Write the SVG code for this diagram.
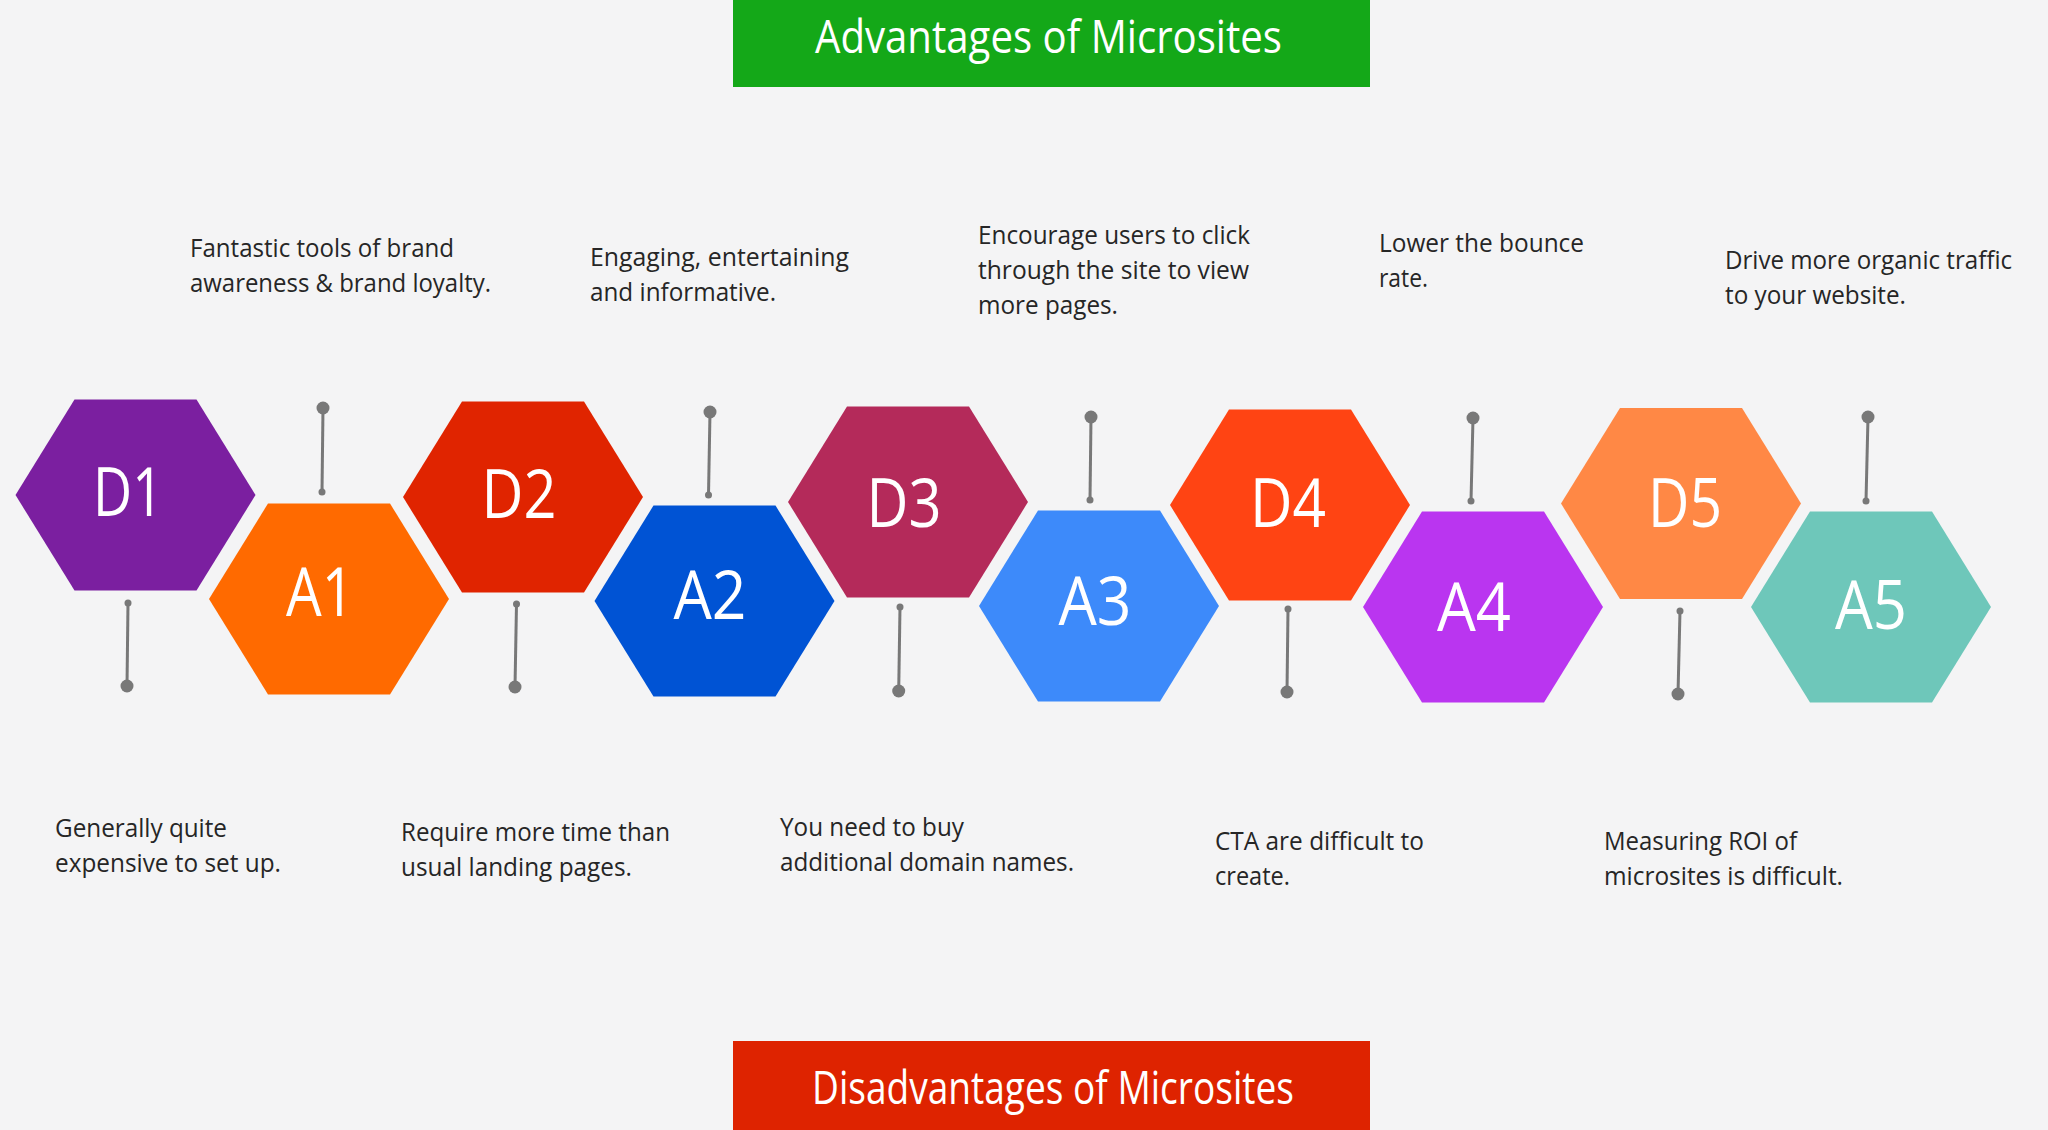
<svg xmlns="http://www.w3.org/2000/svg" xmlns:xlink="http://www.w3.org/1999/xlink" width="2048" height="1130" viewBox="0 0 2048 1130">
<defs>
<style>
.bg{fill:#f4f4f5}
.banner-txt{font-family:"Open Sans","Noto Sans","Liberation Sans",sans-serif;font-size:46px;fill:#ffffff}
.lbl{font-family:"Open Sans","Noto Sans","Liberation Sans",sans-serif;font-size:68px;fill:#ffffff}
.body{font-family:"Open Sans","Noto Sans","Liberation Sans",sans-serif;font-size:26px;fill:#262626}
.pin{stroke:#787878;stroke-width:3;fill:none}
.dot{fill:#787878}
</style>
<polygon id="hex" points="-120,0 -61,-95.5 61,-95.5 120,0 61,95.5 -61,95.5"/>
</defs>
<rect class="bg" x="0" y="0" width="2048" height="1130"/>

<g id="banner-advantages">
<rect x="733" y="0" width="637" height="87" fill="#14a818"/>
<text class="banner-txt" x="815" y="53" textLength="467" lengthAdjust="spacingAndGlyphs">Advantages of Microsites</text>
</g>
<g id="banner-disadvantages">
<rect x="733" y="1041" width="637" height="89" fill="#de2300"/>
<text class="banner-txt" x="812" y="1104" textLength="482" lengthAdjust="spacingAndGlyphs">Disadvantages of Microsites</text>
</g>

<g id="connectors">
<line class="pin" x1="323" y1="408" x2="322" y2="492"/><circle class="dot" cx="323" cy="408" r="6.5"/><circle class="dot" cx="322" cy="492" r="3.5"/>
<line class="pin" x1="710" y1="412" x2="708.5" y2="495"/><circle class="dot" cx="710" cy="412" r="6.5"/><circle class="dot" cx="708.5" cy="495" r="3.5"/>
<line class="pin" x1="1091" y1="417" x2="1090" y2="500"/><circle class="dot" cx="1091" cy="417" r="6.5"/><circle class="dot" cx="1090" cy="500" r="3.5"/>
<line class="pin" x1="1473" y1="418" x2="1471" y2="501"/><circle class="dot" cx="1473" cy="418" r="6.5"/><circle class="dot" cx="1471" cy="501" r="3.5"/>
<line class="pin" x1="1868" y1="417" x2="1866" y2="501"/><circle class="dot" cx="1868" cy="417" r="6.5"/><circle class="dot" cx="1866" cy="501" r="3.5"/>
<line class="pin" x1="128" y1="603" x2="127" y2="686"/><circle class="dot" cx="128" cy="603" r="3.5"/><circle class="dot" cx="127" cy="686" r="6.5"/>
<line class="pin" x1="516.5" y1="604" x2="515" y2="687"/><circle class="dot" cx="516.5" cy="604" r="3.5"/><circle class="dot" cx="515" cy="687" r="6.5"/>
<line class="pin" x1="900" y1="607" x2="898.7" y2="691"/><circle class="dot" cx="900" cy="607" r="3.5"/><circle class="dot" cx="898.7" cy="691" r="6.5"/>
<line class="pin" x1="1288" y1="609" x2="1287" y2="692"/><circle class="dot" cx="1288" cy="609" r="3.5"/><circle class="dot" cx="1287" cy="692" r="6.5"/>
<line class="pin" x1="1680" y1="611" x2="1678" y2="694"/><circle class="dot" cx="1680" cy="611" r="3.5"/><circle class="dot" cx="1678" cy="694" r="6.5"/>
</g>

<g id="node-D1"><use xlink:href="#hex" href="#hex" x="135.5" y="495" fill="#7b1fa0"/><text class="lbl" x="128" y="516" text-anchor="middle" textLength="70" lengthAdjust="spacingAndGlyphs">D1</text></g>
<g id="node-A1"><use xlink:href="#hex" href="#hex" x="329" y="599" fill="#ff6a00"/><text class="lbl" x="320" y="616" text-anchor="middle" textLength="68" lengthAdjust="spacingAndGlyphs">A1</text></g>
<g id="node-D2"><use xlink:href="#hex" href="#hex" x="523" y="497" fill="#e02400"/><text class="lbl" x="519" y="518" text-anchor="middle" textLength="75" lengthAdjust="spacingAndGlyphs">D2</text></g>
<g id="node-A2"><use xlink:href="#hex" href="#hex" x="714.5" y="601" fill="#0053d4"/><text class="lbl" x="710" y="619" text-anchor="middle" textLength="73" lengthAdjust="spacingAndGlyphs">A2</text></g>
<g id="node-D3"><use xlink:href="#hex" href="#hex" x="908" y="502" fill="#b42a5a"/><text class="lbl" x="904" y="527" text-anchor="middle" textLength="75" lengthAdjust="spacingAndGlyphs">D3</text></g>
<g id="node-A3"><use xlink:href="#hex" href="#hex" x="1099" y="606" fill="#3d8afa"/><text class="lbl" x="1095" y="625" text-anchor="middle" textLength="73" lengthAdjust="spacingAndGlyphs">A3</text></g>
<g id="node-D4"><use xlink:href="#hex" href="#hex" x="1290" y="505" fill="#ff4413"/><text class="lbl" x="1288" y="527" text-anchor="middle" textLength="76" lengthAdjust="spacingAndGlyphs">D4</text></g>
<g id="node-A4"><use xlink:href="#hex" href="#hex" x="1483" y="607" fill="#ba35f0"/><text class="lbl" x="1474" y="631" text-anchor="middle" textLength="74" lengthAdjust="spacingAndGlyphs">A4</text></g>
<g id="node-D5"><use xlink:href="#hex" href="#hex" x="1681" y="503.5" fill="#ff8845"/><text class="lbl" x="1685" y="527" text-anchor="middle" textLength="74" lengthAdjust="spacingAndGlyphs">D5</text></g>
<g id="node-A5"><use xlink:href="#hex" href="#hex" x="1871" y="607" fill="#6ec7ba"/><text class="lbl" x="1871" y="629" text-anchor="middle" textLength="72" lengthAdjust="spacingAndGlyphs">A5</text></g>

<g id="text-A1">
<text class="body" x="190" y="257" textLength="264" lengthAdjust="spacingAndGlyphs">Fantastic tools of brand</text>
<text class="body" x="190" y="292" textLength="301" lengthAdjust="spacingAndGlyphs">awareness &amp; brand loyalty.</text>
</g>
<g id="text-A2">
<text class="body" x="590" y="266" textLength="259" lengthAdjust="spacingAndGlyphs">Engaging, entertaining</text>
<text class="body" x="590" y="301" textLength="186" lengthAdjust="spacingAndGlyphs">and informative.</text>
</g>
<g id="text-A3">
<text class="body" x="978" y="244" textLength="272" lengthAdjust="spacingAndGlyphs">Encourage users to click</text>
<text class="body" x="978" y="279" textLength="271" lengthAdjust="spacingAndGlyphs">through the site to view</text>
<text class="body" x="978" y="314" textLength="140" lengthAdjust="spacingAndGlyphs">more pages.</text>
</g>
<g id="text-A4">
<text class="body" x="1379" y="252" textLength="205" lengthAdjust="spacingAndGlyphs">Lower the bounce</text>
<text class="body" x="1379" y="287" textLength="49" lengthAdjust="spacingAndGlyphs">rate.</text>
</g>
<g id="text-A5">
<text class="body" x="1725" y="269" textLength="287" lengthAdjust="spacingAndGlyphs">Drive more organic traffic</text>
<text class="body" x="1725" y="304" textLength="181" lengthAdjust="spacingAndGlyphs">to your website.</text>
</g>
<g id="text-D1">
<text class="body" x="55" y="837" textLength="172" lengthAdjust="spacingAndGlyphs">Generally quite</text>
<text class="body" x="55" y="872" textLength="226" lengthAdjust="spacingAndGlyphs">expensive to set up.</text>
</g>
<g id="text-D2">
<text class="body" x="401" y="841" textLength="269" lengthAdjust="spacingAndGlyphs">Require more time than</text>
<text class="body" x="401" y="876" textLength="231" lengthAdjust="spacingAndGlyphs">usual landing pages.</text>
</g>
<g id="text-D3">
<text class="body" x="780" y="836" textLength="184" lengthAdjust="spacingAndGlyphs">You need to buy</text>
<text class="body" x="780" y="871" textLength="294" lengthAdjust="spacingAndGlyphs">additional domain names.</text>
</g>
<g id="text-D4">
<text class="body" x="1215" y="850" textLength="209" lengthAdjust="spacingAndGlyphs">CTA are difficult to</text>
<text class="body" x="1215" y="885" textLength="75" lengthAdjust="spacingAndGlyphs">create.</text>
</g>
<g id="text-D5">
<text class="body" x="1604" y="850" textLength="193" lengthAdjust="spacingAndGlyphs">Measuring ROI of</text>
<text class="body" x="1604" y="885" textLength="239" lengthAdjust="spacingAndGlyphs">microsites is difficult.</text>
</g>
</svg>
